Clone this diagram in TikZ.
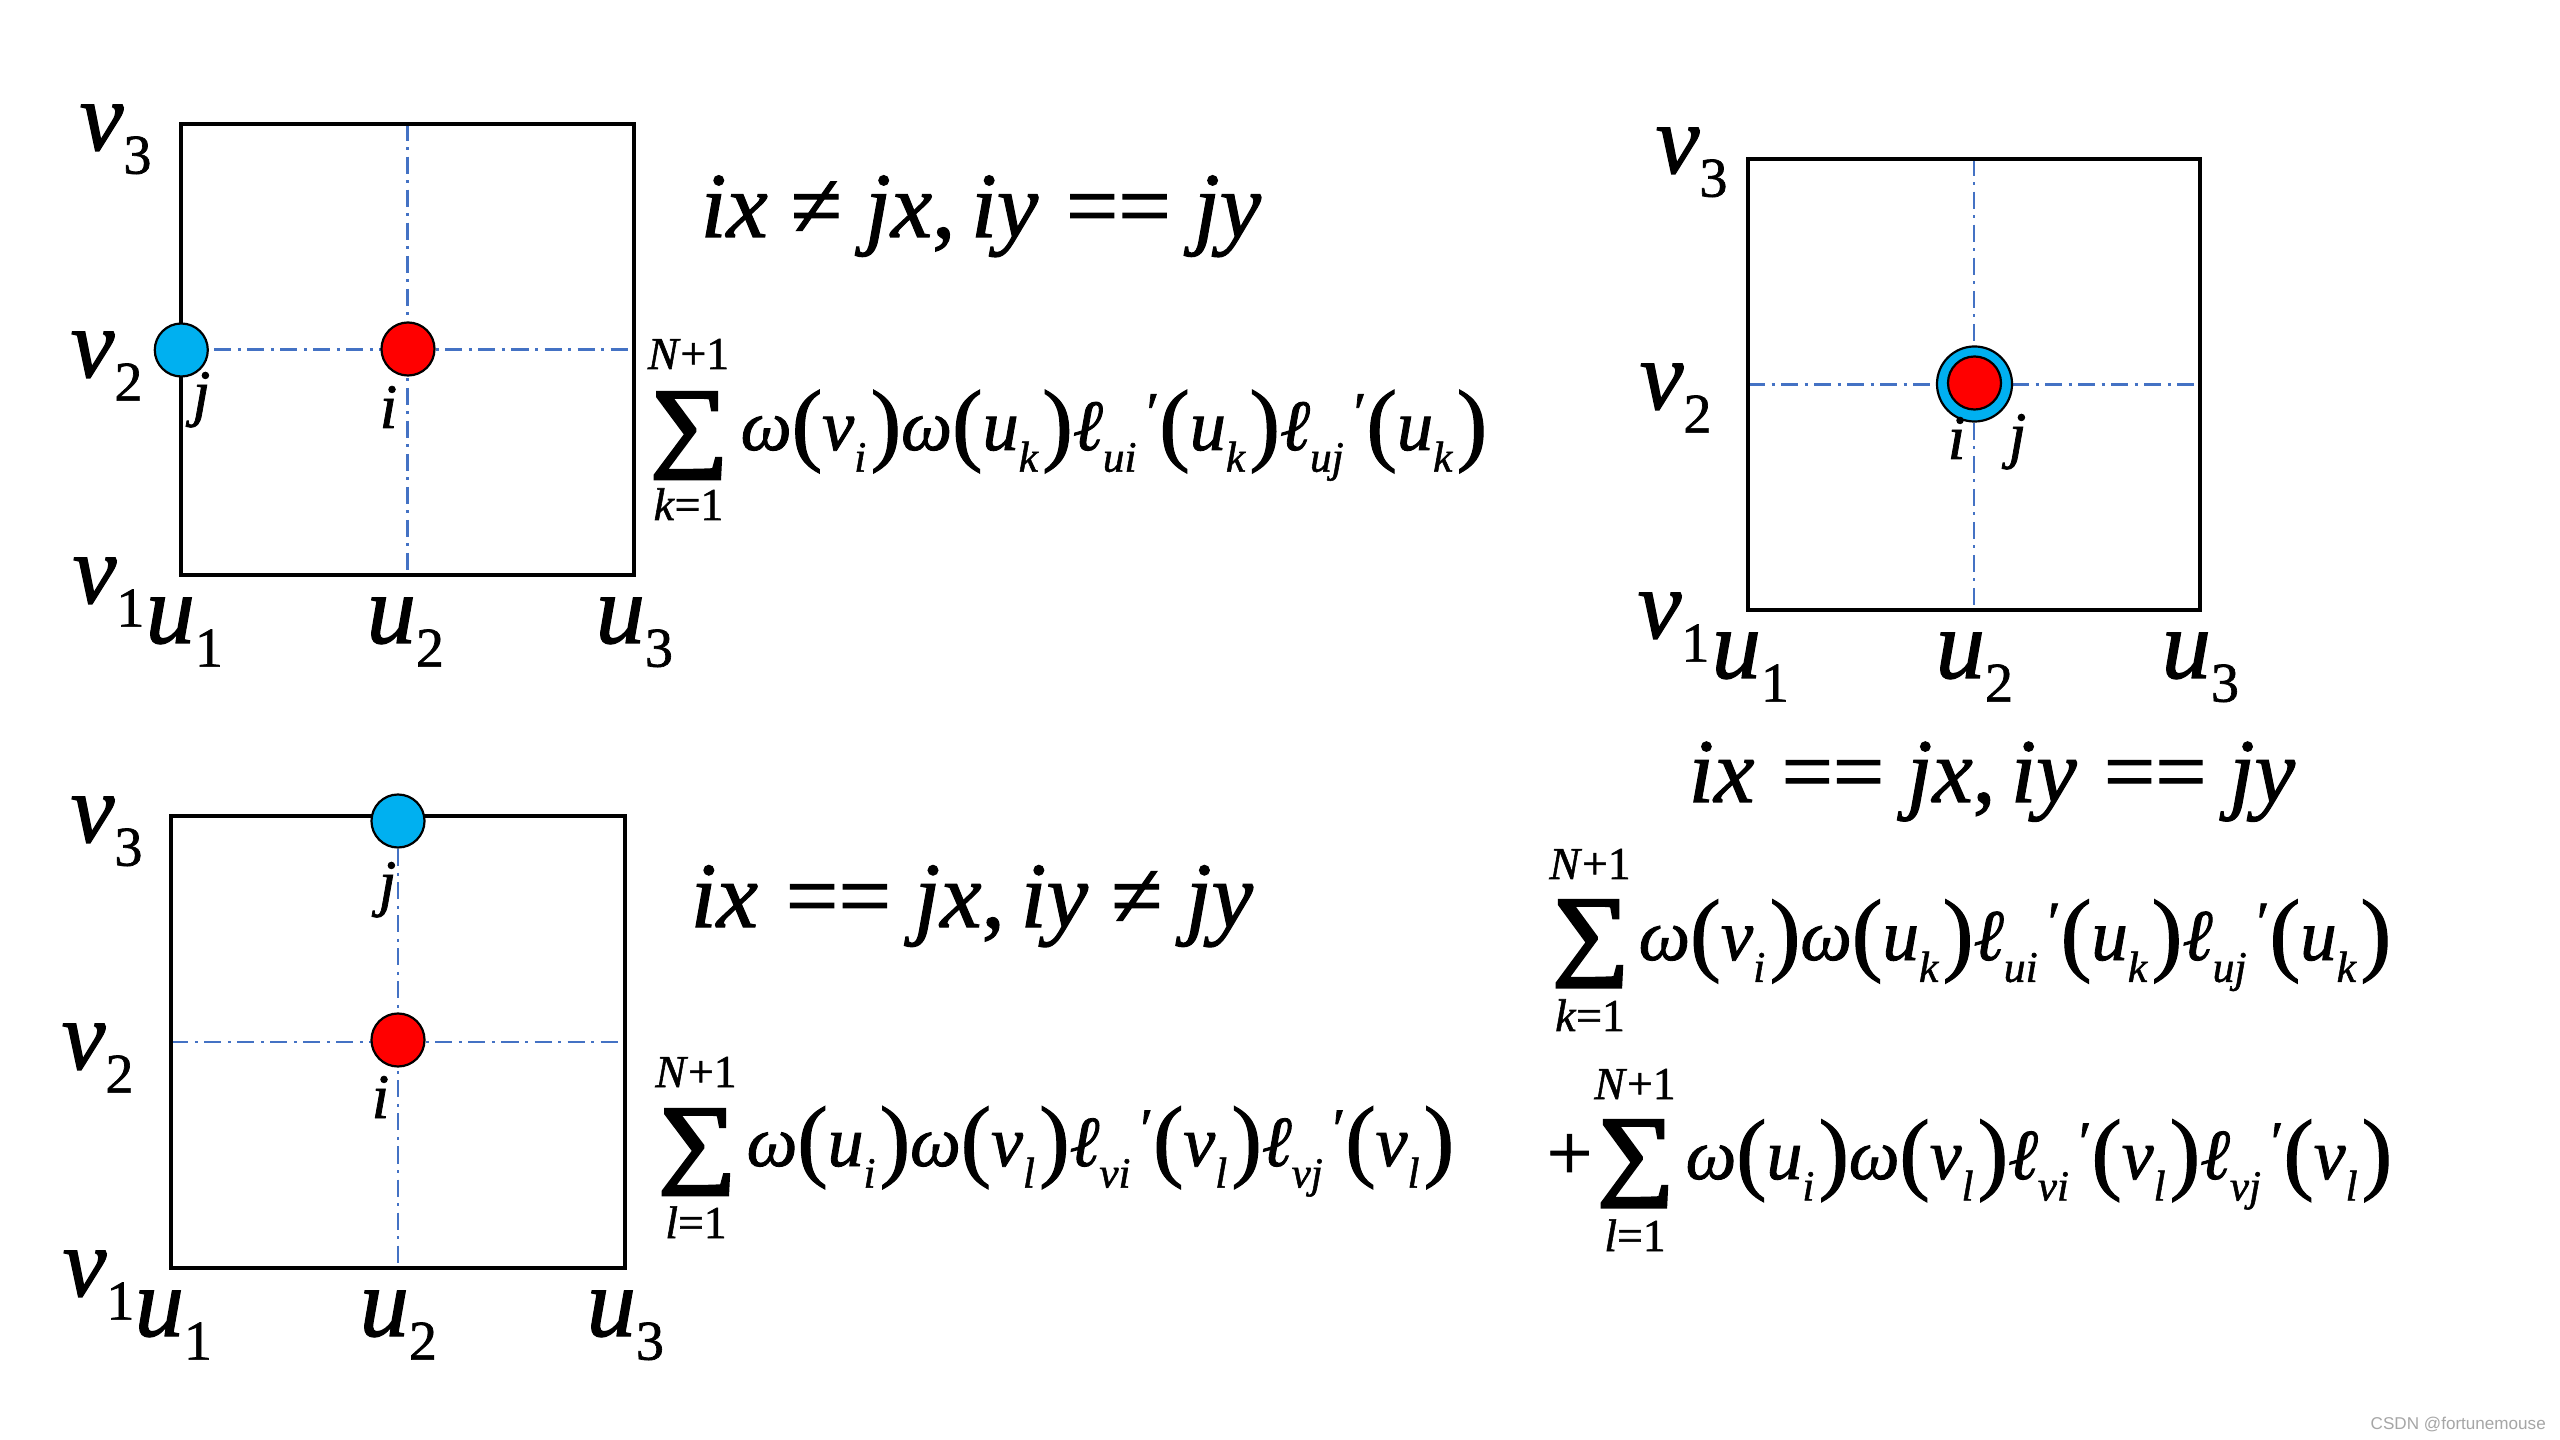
\documentclass[tikz,border=0pt]{standalone}
\usepackage{fontspec}
\setmainfont{Liberation Serif}[FakeBold=1.2]
\newfontfamily\sumfont{Liberation Serif}[FakeBold=3.5]
\newfontfamily\wmfont{Liberation Sans}
\usepackage{graphicx}
\definecolor{gridblue}{HTML}{4472C4}
\definecolor{ptblue}{HTML}{00B0F0}
\definecolor{ptred}{HTML}{FF0000}
\definecolor{wmgray}{HTML}{A6A6A6}
\newcommand\fLab[2]{\textit{#1}\raisebox{-0.24em}{\scalebox{0.57}{#2}}}
\newcommand\fLp{\raisebox{-0.05em}{\scalebox{1.27}{\upshape(}}}
\newcommand\fRp{\raisebox{-0.05em}{\scalebox{1.27}{\upshape)}}}
\newcommand\fSub[1]{\raisebox{-0.3em}{\scalebox{0.6}{#1}}\hspace{0.06em}}
\newcommand\fPr{\hspace{0.08em}\raisebox{0.25em}{\upshape\scalebox{0.8}{′}}}
\newcommand\fSum{\sumfont ∑}
\newcommand\fBodyK{\itshape ω\fLp v\fSub{i}\fRp ω\fLp u\fSub{k}\fRp ℓ\fSub{ui}\fPr\fLp u\fSub{k}\fRp ℓ\fSub{uj}\fPr\fLp u\fSub{k}\fRp}
\newcommand\fBodyL{\itshape ω\fLp u\fSub{i}\fRp ω\fLp v\fSub{l}\fRp ℓ\fSub{vi}\fPr\fLp v\fSub{l}\fRp ℓ\fSub{vj}\fPr\fLp v\fSub{l}\fRp}
\tikzset{
  gbox/.style={line width=0.04cm},
  gline/.style={draw=gridblue, line width=0.022cm, dash pattern=on 0.17cm off 0.065cm on 0.03cm off 0.065cm},
  ptbase/.style={circle, draw=black, line width=0.022cm, inner sep=0},
  bluept/.style={ptbase, fill=ptblue, minimum size=0.53cm},
  bigbluept/.style={ptbase, fill=ptblue, minimum size=0.75cm},
  redpt/.style={ptbase, fill=ptred, minimum size=0.53cm},
  lab/.style={anchor=base west, inner sep=0, font=\fontsize{28}{30}\selectfont},
  ijlab/.style={anchor=base west, inner sep=0, font=\fontsize{18}{20}\selectfont\itshape},
  form/.style={anchor=base west, inner sep=0, font=\fontsize{20}{24}\selectfont},
  lim/.style={anchor=base, inner sep=0, font=\fontsize{13}{15}\selectfont},
  sumsign/.style={anchor=north west, inner sep=0},
}
\begin{document}
\begin{tikzpicture}[x=0.01cm, y=-0.01cm]
\fill[white] (0,0) rectangle (2560,1440);
\useasboundingbox (0,0) rectangle (2560,1440);

% ---------------- Panel A (top-left) ----------------
\draw[gline] (181.3,349.5) -- (633.7,349.5);
\draw[gline] (407.5,123.7) -- (407.5,575.3);
\draw[gbox] (181.3,123.7) rectangle (633.7,575.3);
\node[bluept] (jA) at (181.3,350) {};
\node[redpt] (iA) at (408,349) {};
\node[ijlab] (jAl) at (192,414) {j};
\node[ijlab] (iAl) at (379,428) {i};
\node[lab] (v3A) at (79,150) {\fLab{v}{3}};
\node[lab] (v2A) at (70,377) {\fLab{v}{2}};
\node[lab] (v1A) at (72,603) {\fLab{v}{1}};
\node[lab] (u1A) at (145,643) {\fLab{u}{1}};
\node[lab] (u2A) at (366,643) {\fLab{u}{2}};
\node[lab] (u3A) at (595,643) {\fLab{u}{3}};
\node[form] (fA) at (700,237) {\resizebox{5.6cm}{!}{\textit{ix}~≠~\textit{jx},\hspace{0.17em}\textit{iy}\hspace{0.3em}==~\textit{jy}}};
\node[sumsign] (sA) at (650,392) {\resizebox*{0.77cm}{0.86cm}{\fSum}};
\node[lim] (sAt) at (688.5,369) {\textit{N}+1};
\node[lim] (sAb) at (688.5,520) {\textit{k}=1};
\node[form] (bA) at (740,450) {\resizebox{7.46cm}{!}{\fBodyK}};

% ---------------- Panel B (top-right) ----------------
\draw[gline] (1748,384.5) -- (2200,384.5);
\draw[gline] (1974,158.7) -- (1974,610.3);
\draw[gbox] (1748,158.7) rectangle (2200,610.3);
\node[bigbluept] (jB) at (1974.5,384) {};
\node[redpt] (iB) at (1974.5,383) {};
\node[ijlab] (iBl) at (1947,459) {i};
\node[ijlab] (jBl) at (2008,456) {j};
\node[lab] (v3B) at (1655,173) {\fLab{v}{3}};
\node[lab] (v2B) at (1639,409) {\fLab{v}{2}};
\node[lab] (v1B) at (1637,638) {\fLab{v}{1}};
\node[lab] (u1B) at (1711,678) {\fLab{u}{1}};
\node[lab] (u2B) at (1935,678) {\fLab{u}{2}};
\node[lab] (u3B) at (2161,678) {\fLab{u}{3}};
\node[form] (fB) at (1688,802) {\resizebox{6.06cm}{!}{\textit{ix}\hspace{0.3em}==~\textit{jx},\hspace{0.17em}\textit{iy}\hspace{0.3em}==~\textit{jy}}};
\node[sumsign] (sB1) at (1552,900) {\resizebox*{0.76cm}{0.86cm}{\fSum}};
\node[lim] (sB1t) at (1590,879) {\textit{N}+1};
\node[lim] (sB1b) at (1590,1031) {\textit{k}=1};
\node[form] (bB1) at (1638,960) {\resizebox{7.52cm}{!}{\fBodyK}};
\node[form] (plusB) at (1546,1180) {\fontsize{23}{25}\selectfont +};
\node[sumsign] (sB2) at (1597,1120) {\resizebox*{0.76cm}{0.86cm}{\fSum}};
\node[lim] (sB2t) at (1635,1099) {\textit{N}+1};
\node[lim] (sB2b) at (1635,1251) {\textit{l}=1};
\node[form] (bB2) at (1685,1179) {\resizebox{7.06cm}{!}{\fBodyL}};

% ---------------- Panel C (bottom-left) ----------------
\draw[gline] (171.3,1042) -- (624.7,1042);
\draw[gline] (398,816.3) -- (398,1268);
\draw[gbox] (171.3,816.3) rectangle (624.7,1268);
\node[bluept] (jC) at (398,821) {};
\node[redpt] (iC) at (398,1040) {};
\node[ijlab] (jCl) at (378,904) {j};
\node[ijlab] (iCl) at (371,1118) {i};
\node[lab] (v3C) at (70,842) {\fLab{v}{3}};
\node[lab] (v2C) at (61,1069) {\fLab{v}{2}};
\node[lab] (v1C) at (62,1296) {\fLab{v}{1}};
\node[lab] (u1C) at (134,1336) {\fLab{u}{1}};
\node[lab] (u2C) at (359,1336) {\fLab{u}{2}};
\node[lab] (u3C) at (586,1336) {\fLab{u}{3}};
\node[form] (fC) at (690,927) {\resizebox{5.62cm}{!}{\textit{ix}\hspace{0.3em}==~\textit{jx},\hspace{0.17em}\textit{iy}~≠~\textit{jy}}};
\node[sumsign] (sC) at (658,1109) {\resizebox*{0.77cm}{0.85cm}{\fSum}};
\node[lim] (sCt) at (696,1087) {\textit{N}+1};
\node[lim] (sCb) at (696,1238) {\textit{l}=1};
\node[form] (bC) at (746,1166) {\resizebox{7.07cm}{!}{\fBodyL}};

% watermark
\node[anchor=base west, inner sep=0, text=wmgray, font=\wmfont\fontsize{4.3}{5}\selectfont] (wm) at (2370,1429) {\resizebox{1.75cm}{!}{CSDN @fortunemouse}};
\end{tikzpicture}
\end{document}
